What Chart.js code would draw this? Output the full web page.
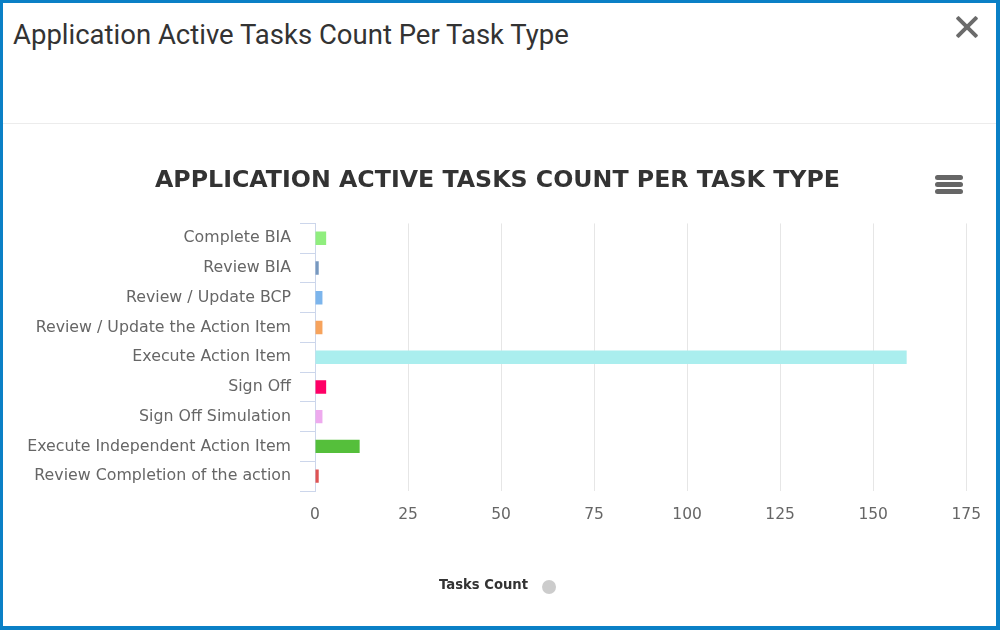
<!DOCTYPE html>
<html>
<head>
<meta charset="utf-8">
<script src="https://cdn.jsdelivr.net/npm/chart.js@4"></script>
<style>
  html, body { margin: 0; padding: 0; background: #fff; }
  #frame { position: absolute; left: 0; top: 0; width: 1000px; height: 630px; box-sizing: border-box; border: 3px solid #0a80c6; border-right-width: 4px; border-bottom-width: 4px; background: #fff; overflow: hidden; }
  #hdr { position: absolute; left: 10px; top: 15px; font-family: Roboto, sans-serif; font-size: 27.5px; color: #333; white-space: nowrap; }
  #close { position: absolute; left: 951px; top: 12px; width: 26px; height: 26px; }
  #close span { position: absolute; left: -1px; top: 10px; width: 28px; height: 4px; background: #6b6b6b; border-radius: 1px; }
  #close span:first-child { transform: rotate(45deg); }
  #close span:last-child { transform: rotate(-45deg); }
  #sep { position: absolute; left: 0; top: 120px; width: 100%; height: 1px; background: #ececec; }
  #wrap { position: absolute; left: 0; top: 127px; width: 993px; height: 496px; }
  #menu { position: absolute; left: 932px; top: 172px; width: 28px; }
  #menu span { display: block; height: 5px; background: #666; border-radius: 3px; margin-bottom: 2px; }
</style>
</head>
<body>
<div id="frame">
  <div id="hdr">Application Active Tasks Count Per Task Type</div>
  <div id="close"><span></span><span></span></div>
  <div id="sep"></div>
  <div id="wrap"><canvas id="c"></canvas></div>
  <div id="menu"><span></span><span></span><span></span></div>
</div>
<script>
const categories = [
  "Complete BIA",
  "Review BIA",
  "Review / Update BCP",
  "Review / Update the Action Item",
  "Execute Action Item",
  "Sign Off",
  "Sign Off Simulation",
  "Execute Independent Action Item",
  "Review Completion of the action"
];
const taskCounts = [3, 1, 2, 2, 159, 3, 2, 12, 1];
const barColors = ["#90ee7e", "#7798BF", "#7cb5ec", "#f7a35c", "#aaeeee", "#ff0066", "#eeaaee", "#55BF3B", "#DF5353"];
const seriesName = "Tasks Count";
const legendColor = "#cccccc";
const chartTitle = "APPLICATION ACTIVE TASKS COUNT PER TASK TYPE";
const xMax = 175;
const xStep = 25;

const labelFont = "'DejaVu Sans', Tahoma, sans-serif";

// Legend drawn after the text, like the reference (text then a grey dot)
const bottomLegend = {
  id: 'bottomLegend',
  afterDraw(chart) {
    const ctx = chart.ctx;
    const y = chart.height - 40;
    const cx = chart.width / 2 - 16;
    ctx.save();
    ctx.font = "bold 13.2px " + labelFont;
    ctx.fillStyle = '#333333';
    ctx.textAlign = 'center';
    ctx.textBaseline = 'middle';
    ctx.fillText(seriesName, cx, y);
    const w = ctx.measureText(seriesName).width;
    ctx.beginPath();
    ctx.arc(cx + w / 2 + 21, y + 1, 7, 0, Math.PI * 2);
    ctx.fillStyle = legendColor;
    ctx.fill();
    ctx.restore();
  }
};

new Chart(document.getElementById('c'), {
  type: 'bar',
  data: {
    labels: categories,
    datasets: [{
      label: seriesName,
      data: taskCounts,
      backgroundColor: barColors,
      borderWidth: 0,
      barPercentage: 0.9,
      categoryPercentage: 0.5
    }]
  },
  plugins: [bottomLegend],
  options: {
    indexAxis: 'y',
    responsive: true,
    maintainAspectRatio: false,
    animation: false,
    layout: { padding: { left: 23, right: 27, top: 0, bottom: 40 } },
    plugins: {
      title: {
        display: true,
        text: chartTitle,
        color: '#333333',
        font: { family: labelFont, size: 23.7, weight: 'bold' },
        padding: { top: 37, bottom: 28 }
      },
      legend: { display: false },
      tooltip: { enabled: false }
    },
    scales: {
      x: {
        min: 0,
        max: xMax,
        ticks: {
          stepSize: xStep,
          color: '#666666',
          font: { family: labelFont, size: 15.5 },
          padding: 15
        },
        grid: { color: '#e6e6e6', lineWidth: 1, drawTicks: false },
        border: { display: false },
        afterFit: (s) => { s.height = 95; }
      },
      y: {
        ticks: {
          color: '#666666',
          font: { family: labelFont, size: 15.8 },
          padding: 9
        },
        grid: {
          display: true,
          drawOnChartArea: false,
          drawTicks: true,
          tickLength: 15,
          color: '#ccd6eb',
          offset: true
        },
        border: { display: true, color: '#ccd6eb', width: 1 },
        afterFit: (s) => { s.width = 289; }
      }
    }
  }
});
</script>
</body>
</html>
